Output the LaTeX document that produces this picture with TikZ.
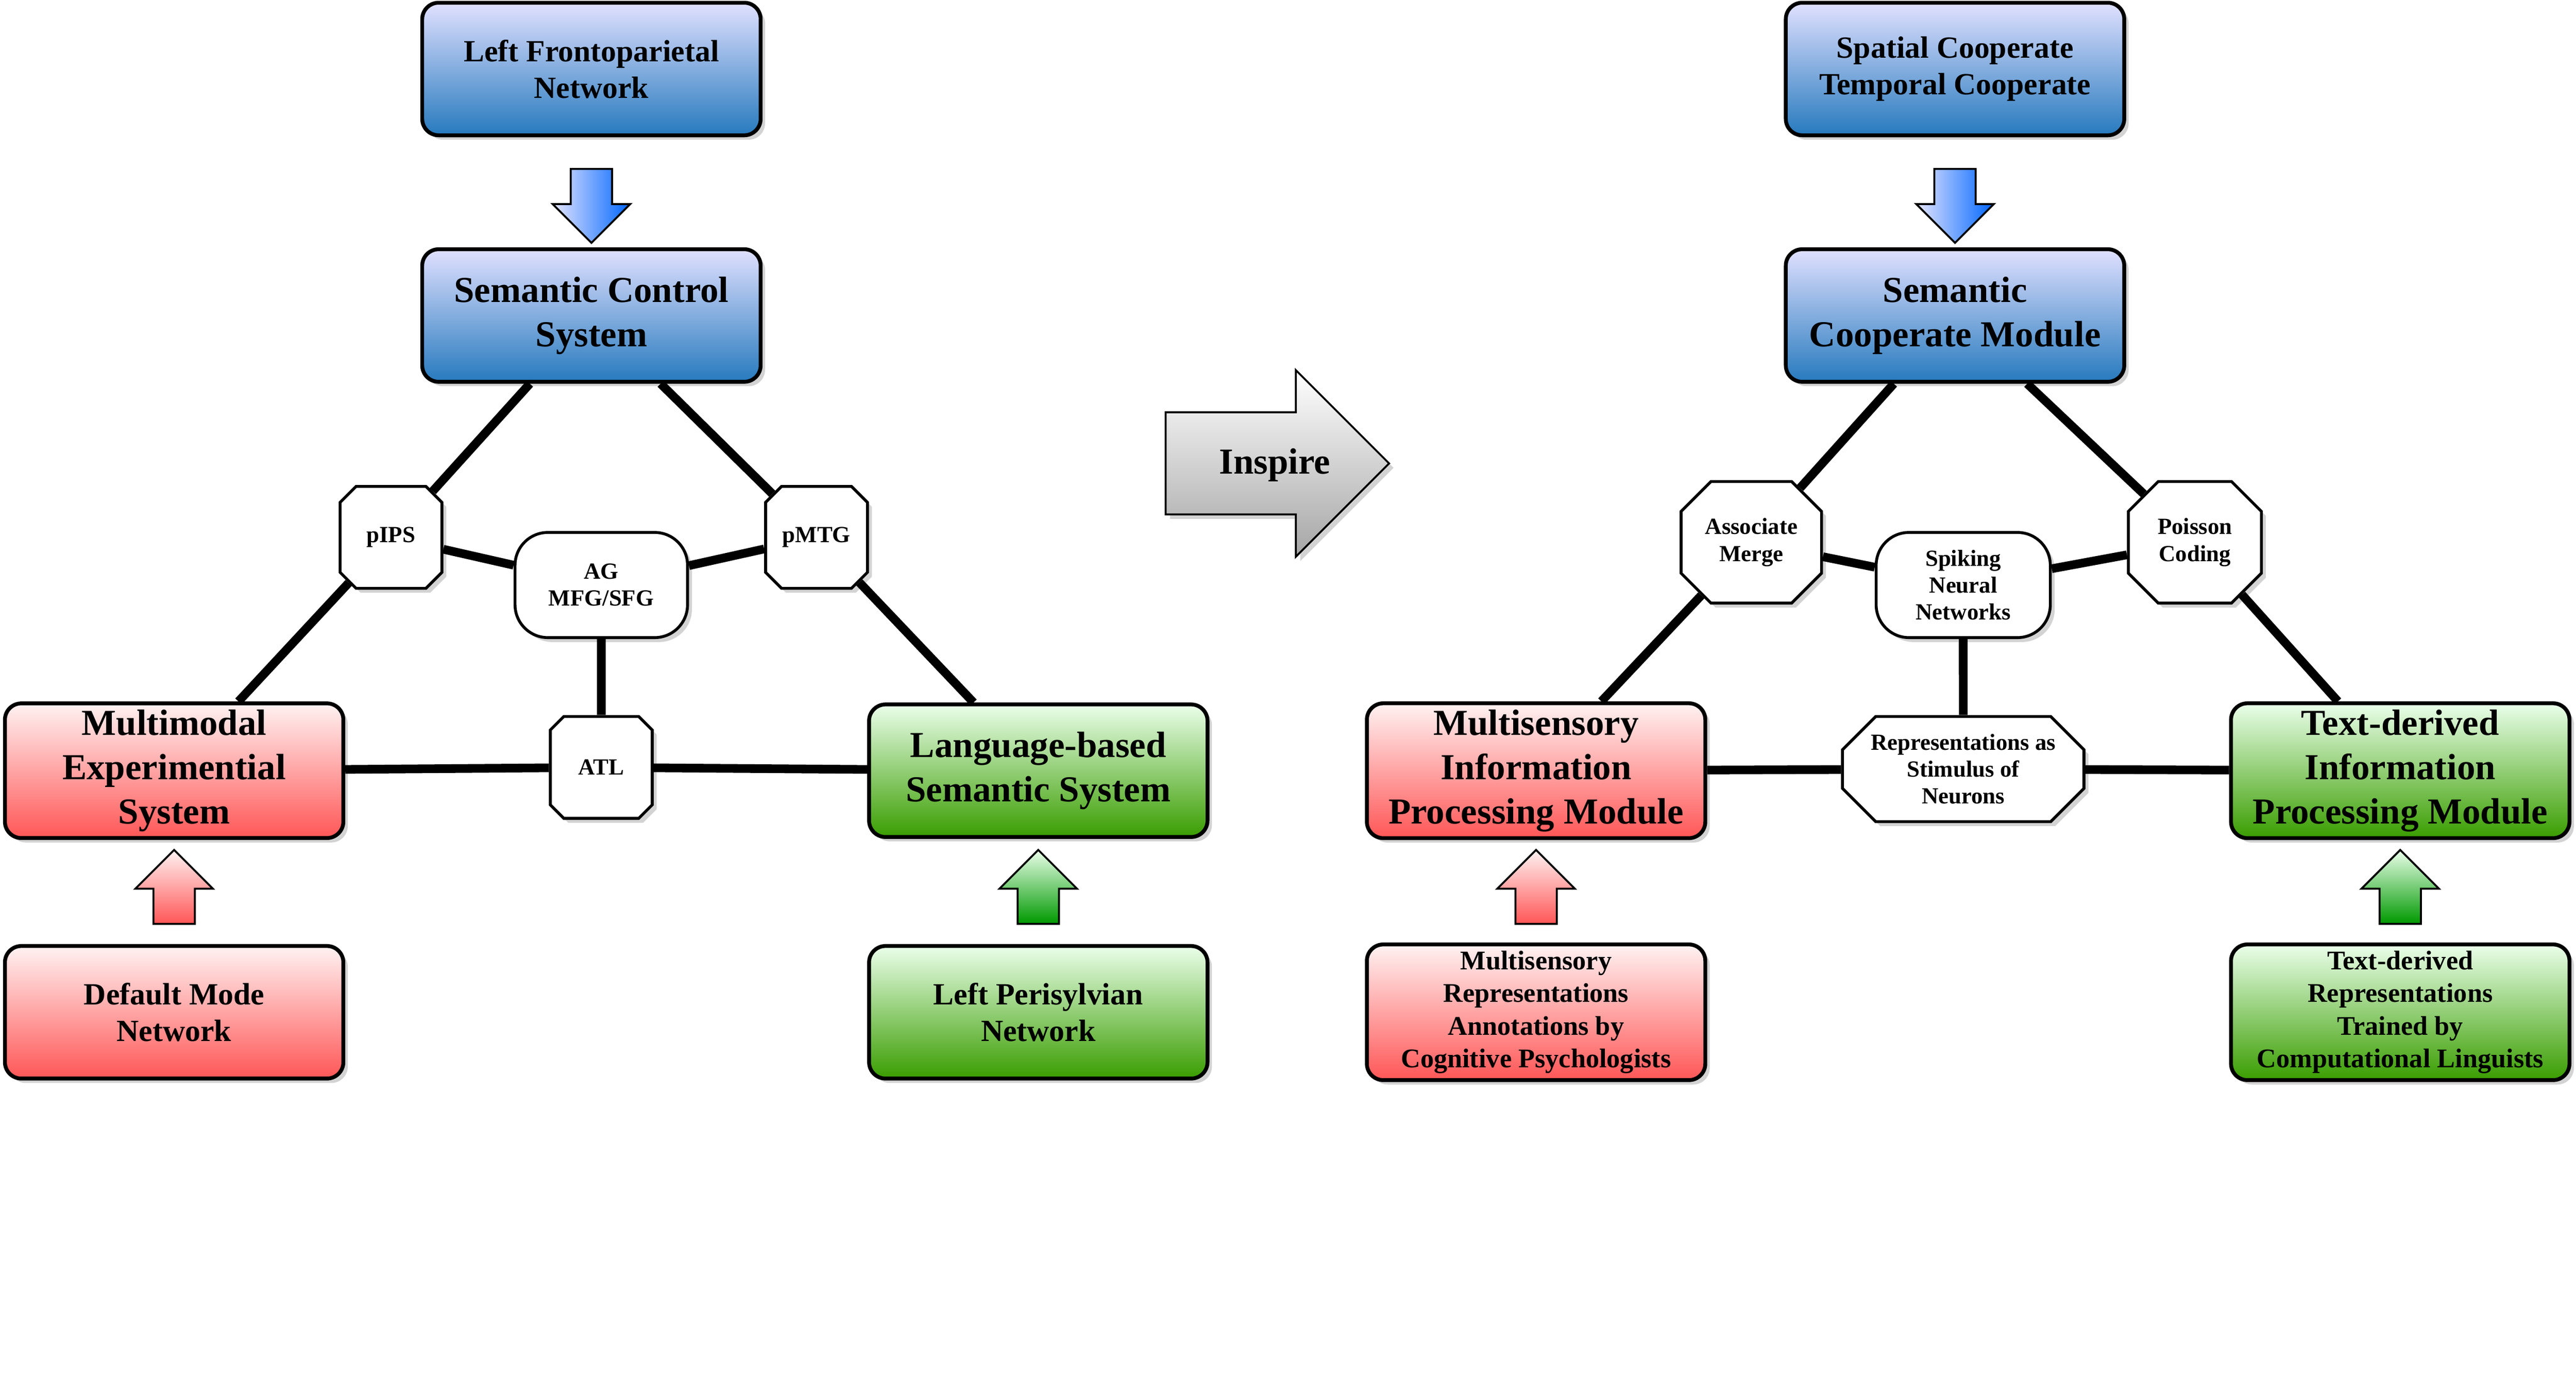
\documentclass[tikz,border=0pt]{standalone}
\usepackage{fontspec}
\setmainfont{Liberation Serif}
\usetikzlibrary{shapes.misc,shapes.arrows,shadows}

\tikzset{
	box/.style={draw,line width=2pt,rounded corners=0.3cm,minimum width=6.18cm,minimum height=2.42cm,
		align=center,font=\bfseries\fontsize{16}{19}\selectfont,drop shadow={opacity=0.35}},
	bigbox/.style={box,font=\bfseries\fontsize{19}{23}\selectfont},
	blue box/.style={shade,top color=blue!12!white,bottom color=blue!45!cyan!70!black!85},
	red box/.style={shade,top color=red!5!white,bottom color=red!55!pink},
	green box/.style={shade,top color=green!8!white,bottom color=green!45!black!70!lime},
	octa/.style={draw,line width=1.5pt,chamfered rectangle,chamfered rectangle xsep=0.45cm,fill=white,
		align=center,font=\bfseries\fontsize{12}{14}\selectfont,inner sep=0pt,drop shadow={opacity=0.35}},
	blob/.style={draw,line width=1.5pt,rounded corners=0.6cm,fill=white,align=center,
		font=\bfseries\fontsize{12}{14}\selectfont,inner sep=0pt,drop shadow={opacity=0.35}},
	link/.style={line width=4.5pt},
	small arrow/.style={single arrow,draw,line width=1pt,minimum height=1.35cm,
		single arrow head extend=0.33cm,inner sep=0.36cm},
}

\begin{document}
\begin{tikzpicture}[x=0.03cm,y=-0.03cm]
	\useasboundingbox (0,0) rectangle (1568,848);
	% left side
	\node(lfn) [box,blue box] at (360,42) {Left Frontoparietal\\Network};
	\node(scs) [bigbox,blue box] at (360,192) {Semantic Control\\System};
	\node(mes) [bigbox,red box] at (106,469) {Multimodal\\Experimential\\System};
	\node(lss) [bigbox,green box] at (632,469) {Language-based\\Semantic System};
	\node(dmn) [box,red box] at (106,616) {Default Mode\\Network};
	\node(lpn) [box,green box] at (632,616) {Left Perisylvian\\Network};
	\node(pips) [octa,minimum width=1.86cm,minimum height=1.86cm] at (238,327) {pIPS};
	\node(pmtg) [octa,minimum width=1.86cm,minimum height=1.86cm] at (497,327) {pMTG};
	\node(ag) [blob,minimum width=3.15cm,minimum height=1.92cm] at (366,356) {AG\\MFG/SFG};
	\node(atl) [octa,minimum width=1.86cm,minimum height=1.86cm] at (366,467) {ATL};
	\draw[link] (scs) -- (pips);
	\draw[link] (scs) -- (pmtg);
	\draw[link] (pips) -- (mes);
	\draw[link] (pmtg) -- (lss);
	\draw[link] (pips) -- (ag);
	\draw[link] (ag) -- (pmtg);
	\draw[link] (ag) -- (atl);
	\draw[link] (mes) -- (atl);
	\draw[link] (atl) -- (lss);
	\node(a1) [small arrow,shape border rotate=270,left color=blue!10!white,right color=blue!60!cyan] at (360,119) {};
	\node(a2) [small arrow,shape border rotate=90,top color=red!5!white,bottom color=red!55!pink] at (106,546) {};
	\node(a3) [small arrow,shape border rotate=90,top color=green!8!white,bottom color=green!60!black] at (632,546) {};
	% middle
	\node(inspire) [single arrow,draw,line width=1pt,minimum height=4.08cm,text height=0.5cm,text depth=0.13cm,
		inner ysep=0.6cm,single arrow head extend=0.77cm,top color=white,bottom color=gray!70,
		drop shadow={opacity=0.35}] at (762,282) {};
	\node(inspiretext) [font=\bfseries\fontsize{19}{23}\selectfont] at (776,283) {Inspire};
	% right side
	\node(sct) [box,blue box] at (1190,42) {Spatial Cooperate\\Temporal Cooperate};
	\node(scm) [bigbox,blue box] at (1190,192) {Semantic\\Cooperate Module};
	\node(mipm) [bigbox,red box] at (935,469) {Multisensory\\Information\\Processing Module};
	\node(tipm) [bigbox,green box] at (1461,469) {Text-derived\\Information\\Processing Module};
	\node(mra) [box,red box,font=\bfseries\fontsize{14}{17}\selectfont] at (935,616) {Multisensory\\Representations\\Annotations by\\Cognitive Psychologists};
	\node(trt) [box,green box,font=\bfseries\fontsize{14}{17}\selectfont] at (1461,616) {Text-derived\\Representations\\Trained by\\Computational Linguists};
	\node(am) [octa,minimum width=2.43cm,minimum height=2.22cm] at (1066,330) {Associate\\Merge};
	\node(pc) [octa,minimum width=2.43cm,minimum height=2.22cm] at (1336,330) {Poisson\\Coding};
	\node(snn) [blob,minimum width=3.18cm,minimum height=1.92cm] at (1195,356) {Spiking\\Neural\\Networks};
	\node(rsn) [octa,chamfered rectangle xsep=0.5cm,minimum width=4.41cm,minimum height=1.92cm] at (1195,468) {Representations as\\Stimulus of\\Neurons};
	\draw[link] (scm) -- (am);
	\draw[link] (scm) -- (pc);
	\draw[link] (am) -- (mipm);
	\draw[link] (pc) -- (tipm);
	\draw[link] (am) -- (snn);
	\draw[link] (snn) -- (pc);
	\draw[link] (snn) -- (rsn);
	\draw[link] (mipm) -- (rsn);
	\draw[link] (rsn) -- (tipm);
	\node(a4) [small arrow,shape border rotate=270,left color=blue!10!white,right color=blue!60!cyan] at (1190,119) {};
	\node(a5) [small arrow,shape border rotate=90,top color=red!5!white,bottom color=red!55!pink] at (935,546) {};
	\node(a6) [small arrow,shape border rotate=90,top color=green!8!white,bottom color=green!60!black] at (1461,546) {};
\end{tikzpicture}
\end{document}
